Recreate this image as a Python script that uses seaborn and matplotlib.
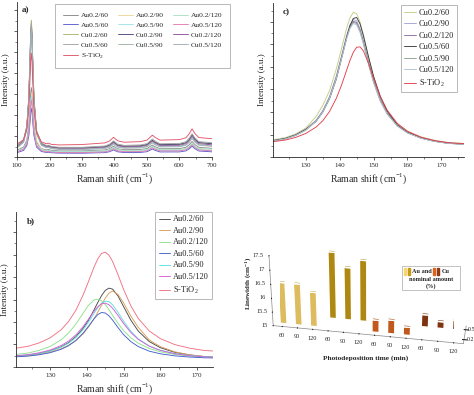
import numpy as np
import pandas as pd
import matplotlib
matplotlib.use('Agg')
import matplotlib.pyplot as plt
from matplotlib.ticker import MultipleLocator, NullFormatter
from matplotlib.patches import Rectangle
import seaborn as sns

sns.set_style("ticks")
plt.rcParams['font.family'] = ['Liberation Serif', 'DejaVu Serif']
plt.rcParams['mathtext.fontset'] = 'custom'
plt.rcParams['mathtext.rm'] = 'Liberation Serif'
plt.rcParams['axes.linewidth'] = 0.6

# ---- a) full spectra (intensity in a.u. read off the picture)
shift_a = [100, 120, 130, 136, 140, 142, 144, 146, 148, 152, 160, 175, 190, 197, 205, 230, 300, 370,
           385, 397, 410, 430, 480, 500, 512, 517, 524, 540, 600, 620, 630, 639, 648, 660, 700]
a_au02_60 = [6.8, 9.9, 16.8, 31.0, 51.9, 63.9, 69.5, 63.9, 51.9, 31.0, 14.6, 8.3, 7.1, 7.5, 6.6, 6.1, 6.1, 7.0,
             8.3, 10.7, 8.2, 7.3, 7.5, 8.5, 11.0, 11.9, 10.5, 8.3, 8.4, 9.7, 12.2, 15.6, 12.3, 9.7, 8.7]
a_au02_90 = [5.7, 7.9, 12.4, 20.6, 33.2, 43.4, 55.6, 65.1, 65.1, 43.4, 16.9, 7.8, 6.1, 6.4, 5.6, 5.0, 4.9, 5.6,
             6.7, 8.8, 6.6, 5.8, 5.9, 6.7, 8.9, 9.8, 8.5, 6.6, 6.6, 7.6, 9.8, 12.8, 9.9, 7.5, 6.7]
a_au02_120 = [6.2, 8.7, 14.7, 26.9, 44.9, 55.2, 60.0, 55.2, 44.9, 26.9, 12.8, 7.4, 6.3, 6.6, 6.0, 5.5, 5.5, 6.3,
              7.4, 9.5, 7.4, 6.5, 6.7, 7.5, 9.8, 10.6, 9.3, 7.4, 7.5, 8.5, 10.7, 13.7, 10.8, 8.5, 7.7]
a_au05_60 = [4.4, 6.6, 11.5, 21.4, 36.1, 44.6, 48.5, 44.6, 36.1, 21.4, 9.9, 5.5, 4.6, 4.8, 4.3, 3.9, 3.8, 4.4,
             5.3, 7.1, 5.2, 4.5, 4.6, 5.3, 7.2, 8.0, 6.8, 5.1, 5.1, 6.1, 8.1, 10.8, 8.2, 6.0, 5.2]
a_au05_90 = [5.7, 8.3, 14.4, 26.8, 45.1, 55.6, 60.5, 55.6, 45.1, 26.8, 12.5, 7.0, 5.8, 6.1, 5.4, 5.0, 4.9, 5.4,
             6.5, 8.6, 6.4, 5.6, 5.7, 6.5, 8.7, 9.6, 8.3, 6.4, 6.4, 7.4, 9.6, 12.6, 9.7, 7.3, 6.5]
a_au05_120 = [5.1, 7.6, 13.4, 25.1, 42.4, 52.4, 57.0, 52.4, 42.4, 25.1, 11.5, 6.3, 5.3, 5.5, 4.9, 4.5, 4.4, 5.1,
              6.2, 8.3, 6.1, 5.3, 5.4, 6.2, 8.4, 9.3, 8.0, 6.1, 6.1, 7.1, 9.3, 12.3, 9.4, 7.0, 6.2]
a_cu02_60 = [10.7, 16.8, 30.8, 59.3, 101.5, 125.8, 137.0, 125.8, 101.5, 59.3, 26.3, 13.6, 11.1, 11.4, 10.1, 9.2,
             9.1, 10.4, 12.1, 15.5, 12.1, 10.8, 11.3, 12.6, 15.9, 17.2, 15.3, 12.5, 12.7, 14.4, 17.8, 22.4, 18.0,
             14.5, 13.3]
a_cu02_90 = [10.6, 16.4, 29.9, 57.4, 97.9, 121.2, 132.0, 121.2, 97.9, 57.4, 25.6, 13.4, 11.0, 11.4, 10.1, 9.2,
             9.1, 10.3, 11.9, 15.0, 12.0, 10.8, 11.2, 12.4, 15.5, 16.7, 14.9, 12.4, 12.7, 14.3, 17.5, 21.9, 17.7,
             14.4, 13.3]
a_cu02_120 = [10.1, 15.8, 29.1, 56.1, 96.0, 118.9, 129.5, 118.9, 96.0, 56.1, 24.8, 12.7, 10.3, 10.5, 9.4, 8.5,
              8.5, 9.6, 11.2, 14.3, 11.2, 10.1, 10.5, 11.6, 14.7, 15.8, 14.1, 11.5, 11.7, 13.3, 16.3, 20.5, 16.5,
              13.3, 12.2]
a_cu05_60 = [11.1, 17.1, 30.8, 58.6, 99.9, 123.5, 134.5, 123.5, 99.9, 58.6, 26.4, 14.0, 11.5, 11.9, 10.6, 9.7,
             9.7, 11.0, 12.8, 16.2, 12.9, 11.6, 12.1, 13.4, 16.7, 18.0, 16.1, 13.3, 13.6, 15.3, 18.7, 23.3, 19.0,
             15.4, 14.3]
a_cu05_90 = [9.5, 15.2, 28.4, 55.2, 94.7, 117.5, 128.0, 117.5, 94.7, 55.2, 24.2, 12.2, 9.8, 10.0, 8.9, 8.0, 7.9,
             9.0, 10.5, 13.6, 10.5, 9.3, 9.7, 10.8, 13.9, 15.0, 13.3, 10.7, 10.8, 12.3, 15.4, 19.5, 15.6, 12.4, 11.2]
a_cu05_120 = [9.0, 14.6, 27.6, 53.9, 92.8, 115.1, 125.5, 115.1, 92.8, 53.9, 23.4, 11.6, 9.3, 9.5, 8.3, 7.5, 7.4,
              8.4, 9.8, 12.6, 9.9, 8.8, 9.1, 10.2, 13.0, 14.0, 12.5, 10.1, 10.3, 11.7, 14.6, 18.5, 14.8, 11.8, 10.7]
a_tio2 = [13.0, 17.3, 27.5, 48.0, 78.4, 95.9, 104.0, 95.9, 78.4, 48.0, 24.2, 15.1, 13.3, 13.9, 12.7, 12.1, 12.5,
          14.1, 16.1, 19.7, 16.2, 14.8, 15.4, 16.9, 20.5, 21.9, 19.9, 16.9, 17.4, 19.3, 23.1, 28.2, 23.4, 19.5, 18.3]

# ---- b) / c) zoom on the Eg peak
shift_bc = [120, 124, 127, 130, 133, 135, 137, 139, 140.5, 142, 143, 144, 145, 146, 147, 148.5, 150, 152, 154,
            157, 160, 164, 168, 172, 177]
b_au02_60 = [10.6, 11.8, 13.5, 16.1, 20.2, 24.4, 30.3, 38.8, 47.2, 57.5, 64.8, 71.5, 76.6, 78.9, 77.9, 70.9, 60.4,
             46.7, 35.9, 25.4, 19.3, 14.6, 12.0, 10.4, 9.5]
b_au02_90 = [10.1, 11.1, 12.7, 14.9, 18.3, 21.8, 26.5, 33.3, 40.3, 48.7, 55.0, 62.0, 69.0, 73.9, 76.0, 72.5, 64.1,
             50.8, 39.6, 27.0, 20.4, 15.1, 12.2, 10.5, 9.6]
b_au02_120 = [12.3, 14.0, 16.6, 20.6, 27.3, 33.9, 43.0, 54.0, 62.0, 67.2, 67.9, 66.2, 62.5, 57.4, 51.7, 43.5, 36.4,
              29.1, 23.8, 18.5, 15.2, 12.5, 10.9, 9.8, 9.3]
b_au05_60 = [10.0, 10.9, 12.2, 14.3, 17.7, 21.3, 26.5, 34.0, 41.0, 48.5, 52.5, 54.5, 54.0, 51.2, 46.9, 39.3, 32.3,
             25.3, 20.4, 15.8, 13.2, 11.1, 9.9, 9.2, 8.8]
b_au05_90 = [10.9, 12.0, 13.6, 16.0, 19.9, 23.8, 29.4, 37.4, 45.2, 53.9, 59.5, 63.8, 65.9, 65.4, 62.2, 54.5, 45.8,
             35.6, 28.1, 20.9, 16.7, 13.4, 11.5, 10.3, 9.7]
b_au05_120 = [11.1, 12.3, 14.2, 17.0, 21.5, 25.9, 32.1, 40.6, 48.2, 56.1, 60.4, 63.3, 63.9, 62.3, 58.8, 51.5, 43.5,
              34.4, 27.6, 20.8, 16.6, 13.2, 11.3, 10.1, 9.4]
b_tio2 = [18.4, 20.7, 24.1, 29.2, 37.3, 45.5, 56.8, 72.3, 86.2, 100.5, 108.5, 113.6, 114.9, 112.0, 105.6, 92.1,
          77.6, 61.0, 48.5, 36.0, 28.4, 22.3, 18.8, 16.5, 15.4]

c_cu02_60 = [17.0, 19.5, 23.1, 29.0, 40.5, 51.6, 66.5, 88.2, 108.0, 128.5, 138.9, 144.7, 143.2, 134.9, 122.1,
             100.1, 80.3, 60.1, 46.3, 33.3, 25.8, 20.1, 16.7, 14.6, 13.5]
c_cu02_90 = [16.3, 18.7, 22.2, 27.7, 36.8, 46.4, 60.5, 81.1, 100.8, 121.2, 132.0, 137.5, 136.1, 128.2, 116.0, 95.2,
             76.4, 57.3, 44.2, 31.9, 24.7, 19.3, 16.1, 14.1, 13.1]
c_cu02_120 = [15.9, 18.3, 21.7, 27.2, 36.2, 45.6, 59.6, 80.0, 99.4, 119.6, 130.2, 135.7, 134.3, 126.5, 114.5, 93.9,
              75.3, 56.4, 43.5, 31.3, 24.3, 18.9, 15.7, 13.7, 12.7]
c_cu05_60 = [16.2, 18.6, 22.1, 27.7, 35.5, 45.0, 58.5, 78.0, 98.0, 119.0, 131.0, 138.5, 139.5, 133.0, 121.0, 100.0,
             80.5, 60.0, 46.0, 31.9, 24.7, 19.2, 15.9, 13.9, 12.8]
c_cu05_90 = [15.9, 18.2, 21.6, 27.0, 35.9, 45.3, 59.2, 79.4, 98.7, 118.7, 129.3, 134.7, 133.3, 125.6, 113.7, 93.2,
             74.8, 56.0, 43.2, 31.1, 24.1, 18.8, 15.6, 13.7, 12.7]
c_cu05_120 = [15.8, 18.1, 21.5, 26.9, 35.7, 45.0, 58.7, 78.6, 97.7, 117.6, 128.0, 133.5, 132.1, 124.4, 112.6, 92.3,
              74.1, 55.5, 42.8, 30.9, 24.0, 18.7, 15.6, 13.6, 12.6]
c_tio2 = [15.2, 17.0, 19.6, 23.6, 29.9, 36.3, 45.6, 58.8, 71.6, 86.5, 96.4, 104.7, 109.7, 110.1, 106.0, 93.6, 78.5,
          60.3, 46.8, 33.5, 25.7, 19.8, 16.4, 14.3, 13.3]

# ---- d) linewidth bars
times = ['60', '90', '120']
amounts = ['0.2', '0.5']
lw_au02 = [16.5, 16.5, 16.25]
lw_au05 = [17.4, 16.9, 17.2]
lw_cu02 = [15.45, 15.5, 15.3]
lw_cu05 = [15.45, 15.25, 15.35]
lw_ticks = [15, 15.5, 16, 16.5, 17, 17.5]

TIO2 = 'S-TiO$_\\mathregular{2}$'
series_a = [
    ('Au0.2/60', a_au02_60, '#8a8a8a'), ('Au0.2/90', a_au02_90, '#f1d49a'), ('Au0.2/120', a_au02_120, '#a9e2c4'),
    ('Au0.5/60', a_au05_60, '#5c5cd0'), ('Au0.5/90', a_au05_90, '#9fe3e6'), ('Au0.5/120', a_au05_120, '#e07cb4'),
    ('Cu0.2/60', a_cu02_60, '#a6b866'), ('Cu0.2/90', a_cu02_90, '#4b4b7e'), ('Cu0.2/120', a_cu02_120, '#8e52a0'),
    ('Cu0.5/60', a_cu05_60, '#a4a4a4'), ('Cu0.5/90', a_cu05_90, '#a3b5a3'), ('Cu0.5/120', a_cu05_120, '#9fb0ba'),
    (TIO2, a_tio2, '#e2566a'),
]
series_b = [
    ('Au0.2/60', b_au02_60, '#4a4a4a'), ('Au0.2/90', b_au02_90, '#d9a05a'), ('Au0.2/120', b_au02_120, '#8fe08f'),
    ('Au0.5/60', b_au05_60, '#4262cf'), ('Au0.5/90', b_au05_90, '#5fe0e2'), ('Au0.5/120', b_au05_120, '#d45fd4'),
    (TIO2, b_tio2, '#f07284'),
]
series_c = [
    ('Cu0.2/60', c_cu02_60, '#c3cd86'), ('Cu0.2/90', c_cu02_90, '#a3a3d3'), ('Cu0.2/120', c_cu02_120, '#8e6c9e'),
    ('Cu0.5/60', c_cu05_60, '#3c3c3c'), ('Cu0.5/90', c_cu05_90, '#8fa38f'), ('Cu0.5/120', c_cu05_120, '#b2c3d2'),
    (TIO2, c_tio2, '#e3404f'),
]

fig = plt.figure(figsize=(4.74, 3.95), dpi=100)


def spectrum_axes(rect, xlim, ylim, major_x, minor_x, ytick):
    ax = fig.add_axes(rect)
    ax.set_xlim(*xlim)
    ax.set_ylim(*ylim)
    ax.xaxis.set_major_locator(MultipleLocator(major_x))
    ax.xaxis.set_minor_locator(MultipleLocator(minor_x))
    ax.yaxis.set_major_locator(MultipleLocator(ytick))
    ax.yaxis.set_minor_locator(MultipleLocator(ytick / 2))
    ax.yaxis.set_major_formatter(NullFormatter())
    ax.tick_params(which='major', length=2.5, width=0.5, labelsize=5, pad=1.5)
    ax.tick_params(which='minor', length=1.3, width=0.4)
    sns.despine(ax=ax)
    return ax


def draw(ax, shift, series):
    df = pd.DataFrame({name: vals for name, vals, _ in series})
    df['shift'] = shift
    long = df.melt(id_vars='shift', var_name='sample', value_name='intensity')
    pal = {name: c for name, _, c in series}
    sns.lineplot(data=long, x='shift', y='intensity', hue='sample', palette=pal,
                 hue_order=[s[0] for s in series], lw=0.65, ax=ax, legend=True)
    handles, labels = ax.get_legend_handles_labels()
    ax.get_legend().remove()
    ax.set_ylabel('Intensity (a.u.)', fontsize=6.5, labelpad=0.5)
    ax.set_xlabel('Raman shift (cm$^{\\mathregular{-1}}$)', fontsize=7, labelpad=3)
    return handles, labels


def frame(leg):
    leg.get_frame().set_edgecolor('#999999')
    leg.get_frame().set_linewidth(0.6)


# panel a
ax_a = spectrum_axes([0.036, 0.6025, 0.411, 0.392], (100, 700), (0, 155), 100, 50, 21)
h, l = draw(ax_a, shift_a, series_a)
order = [0, 3, 6, 9, 12, 1, 4, 7, 10, 2, 5, 8, 11]
leg = ax_a.legend([h[i] for i in order], [l[i] for i in order], ncol=3, loc='upper left',
                  bbox_to_anchor=(0.195, 0.985), fontsize=5.4, frameon=True, fancybox=False,
                  handlelength=2.0, handletextpad=0.4, columnspacing=1.2, labelspacing=0.48, borderpad=1.0,
                  borderaxespad=0)
frame(leg)
ax_a.text(0.025, 0.935, 'a)', transform=ax_a.transAxes, fontsize=6.5, fontweight='bold')

# panel b
ax_b = spectrum_axes([0.034, 0.071, 0.4156, 0.392], (120.7, 174.4), (0, 155), 10, 5, 22.5)
h, l = draw(ax_b, shift_bc, series_b)
leg = ax_b.legend(h, l, loc='upper right', bbox_to_anchor=(0.995, 1.0), fontsize=6, frameon=True,
                  fancybox=False, handlelength=1.4, handletextpad=0.3, labelspacing=0.42, borderpad=0.4,
                  borderaxespad=0)
frame(leg)
ax_b.text(0.055, 0.93, 'b)', transform=ax_b.transAxes, fontsize=6.5, fontweight='bold')

# panel c
ax_c = spectrum_axes([0.576, 0.6025, 0.403, 0.39], (120.3, 176.7), (0, 154), 10, 5, 22.5)
h, l = draw(ax_c, shift_bc, series_c)
leg = ax_c.legend(h, l, loc='upper right', bbox_to_anchor=(0.965, 0.985), fontsize=6, frameon=True,
                  fancybox=False, handlelength=1.4, handletextpad=0.3, labelspacing=0.42, borderpad=0.4,
                  borderaxespad=0)
frame(leg)
ax_c.text(0.05, 0.925, 'c)', transform=ax_c.transAxes, fontsize=6.5, fontweight='bold')

# panel d : 3D columns
ax_d = fig.add_axes([0.515, 0.036, 0.52, 0.44], projection='3d')
heights = np.array(lw_au02 + lw_au05 + lw_cu02 + lw_cu05)
xs = np.arange(12)
depth = np.array([0, 0, 0, 1, 1, 1, 0, 0, 0, 1, 1, 1])
bar_cols = ['#f9d56c'] * 3 + ['#c69a14'] * 3 + ['#da6420'] * 3 + ['#8f3a12'] * 3
ax_d.bar3d(xs - 0.23, depth - 0.1, 15, 0.46, 0.2, heights - 15, color=bar_cols, shade=True)
ax_d.set_xlim(-0.6, 11.6)
ax_d.set_ylim(-0.4, 1.4)
ax_d.set_zlim(15, 17.5)
ax_d.view_init(elev=30, azim=-80)
ax_d.set_box_aspect((9.8, 1.7, 4.07), zoom=1.19)
ax_d.zaxis.set_ticks_position('lower')
for axis in (ax_d.xaxis, ax_d.yaxis, ax_d.zaxis):
    axis.set_pane_color((1, 1, 1, 0))
    axis.line.set_linewidth(0.5)
    axis.line.set_color('#888888')
ax_d.grid(False)
ax_d.set_xticks(xs)
ax_d.set_xticklabels(times * 4)
ax_d.set_yticks([0, 1])
ax_d.set_yticklabels([])
ax_d.set_zticks(lw_ticks)
ax_d.set_zticklabels([])
ax_d.tick_params(labelsize=4.5, pad=0)
ax_d.tick_params(axis='x', pad=-3)

# z and depth tick labels: project the 3D anchor points, then write them as plain 2D text
fig.canvas.draw()
M = ax_d.get_proj()


def project(x, y, z):
    v = M @ np.array([x, y, z, 1.0])
    return v[0] / v[3], v[1] / v[3]


for v in lw_ticks:
    px, py = project(-0.95, -0.4, v)
    ax_d.text2D(px, py, f'{v:g}', transform=ax_d.transData, fontsize=4.5, ha='right', va='center')
for d, lab in enumerate(amounts):
    px, py = project(11.75, d, 15)
    ax_d.text2D(px, py, lab, transform=ax_d.transData, fontsize=4.3, ha='left', va='center')

fig.text(0.525, 0.282, 'Linewidth (cm$^{\\mathregular{-1}}$)', rotation=90, fontsize=5, fontweight='bold',
         ha='center', va='center')
fig.text(0.772, 0.094, 'Photodeposition time (min)', fontsize=5.3, fontweight='bold', ha='center', va='center')

# legend box of panel d
fig.add_artist(Rectangle((0.848, 0.266), 0.122, 0.061, transform=fig.transFigure, fill=False,
                         edgecolor='#aaaaaa', lw=0.5))
for x0, c in [(0.853, '#f9d56c'), (0.860, '#c69a14'), (0.914, '#da6420'), (0.921, '#8f3a12')]:
    fig.add_artist(Rectangle((x0, 0.305), 0.0045, 0.017, transform=fig.transFigure, color=c))
fig.text(0.869, 0.313, 'Au and', fontsize=4.5, fontweight='bold', va='center')
fig.text(0.931, 0.313, 'Cu', fontsize=4.5, fontweight='bold', va='center')
fig.text(0.909, 0.293, 'nominal amount', fontsize=4.5, fontweight='bold', ha='center', va='center')
fig.text(0.909, 0.275, '(%)', fontsize=4.5, fontweight='bold', ha='center', va='center')

fig.savefig('out.png', dpi=100)
